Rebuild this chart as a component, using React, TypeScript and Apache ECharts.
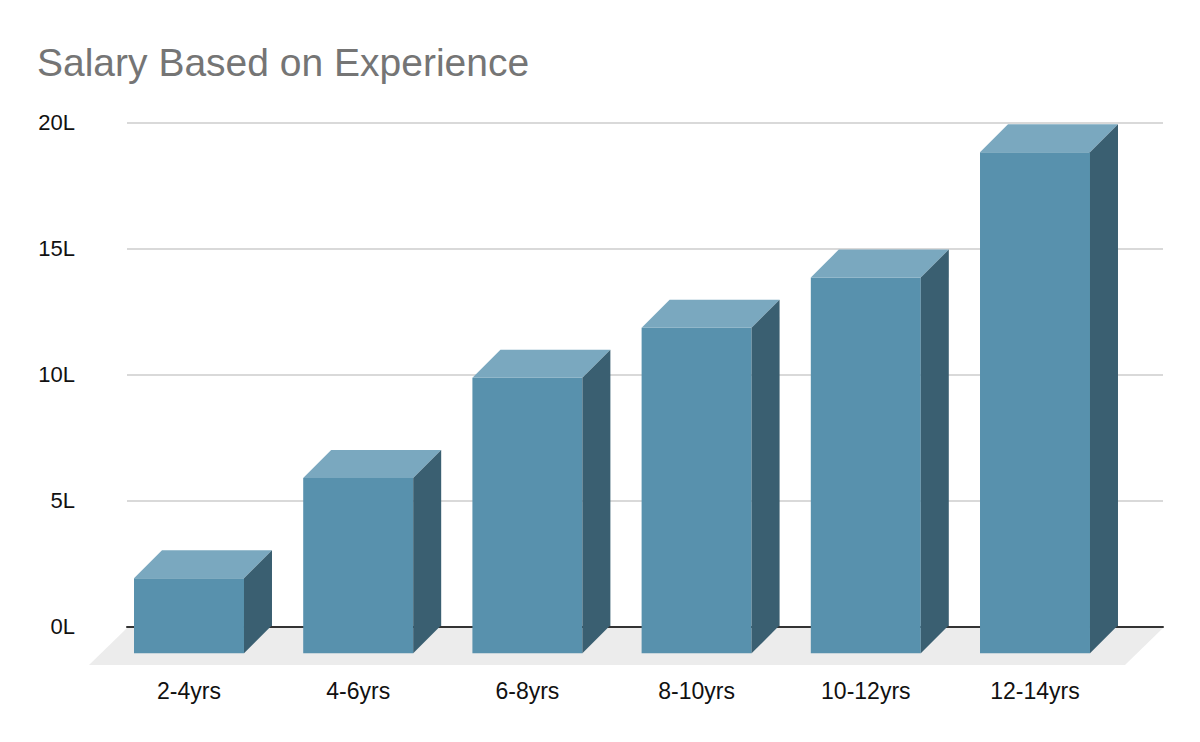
import React, { useEffect, useRef } from "react";
import * as echarts from "echarts";

const titleText = "Salary Based on Experience";
const categories = ["2-4yrs", "4-6yrs", "6-8yrs", "8-10yrs", "10-12yrs", "12-14yrs"];
const salaries = [3, 7, 11, 13, 15, 20];
const yTicks = { min: 0, max: 20, interval: 5, suffix: "L" };

const FONT = 'Arial, "Liberation Sans", sans-serif';
const FRONT = "#5891ad";
const TOP = "#7aa8bf";
const SIDE = "#3a5f71";
const DEPTH = 28;

export default function App() {
  const ref = useRef<HTMLDivElement>(null);
  useEffect(() => {
    if (!ref.current) return;
    const chart = echarts.init(ref.current, undefined, { renderer: "svg" });
    const option: any = {
      animation: false,
      backgroundColor: "#ffffff",
      title: {
        text: titleText,
        left: 37,
        top: 43,
        padding: 0,
        textStyle: { fontFamily: FONT, fontSize: 39, fontWeight: "normal", color: "#757575" },
      },
      grid: [
        // back plane: gridlines & value labels
        { left: 127, right: 37, top: 122.7, bottom: 742 - 626.7 },
        // front plane: bars & category labels
        { left: 104.4, right: 80.4, top: 152.3, bottom: 742 - 653.3 },
      ],
      xAxis: [
        {
          type: "category",
          gridIndex: 0,
          data: categories,
          axisLabel: { show: false },
          axisTick: { show: false },
          axisLine: { show: true, lineStyle: { color: "#333333", width: 2 } },
        },
        {
          type: "category",
          gridIndex: 1,
          data: categories,
          axisLabel: { show: true, margin: 26, fontFamily: FONT, fontSize: 23, color: "#111111" },
          axisTick: { show: false },
          axisLine: { show: false },
        },
      ],
      yAxis: [
        {
          type: "value",
          gridIndex: 0,
          min: yTicks.min,
          max: yTicks.max,
          interval: yTicks.interval,
          axisLabel: {
            margin: 52,
            fontFamily: FONT,
            fontSize: 22,
            color: "#111111",
            formatter: (v: number) => `${v}${yTicks.suffix}`,
          },
          axisLine: { show: false },
          axisTick: { show: false },
          splitLine: { show: true, lineStyle: { color: "#cccccc", width: 1.5 } },
        },
        {
          type: "value",
          gridIndex: 1,
          min: yTicks.min,
          max: yTicks.max,
          interval: yTicks.interval,
          show: false,
          splitLine: { show: false },
        },
      ],
      graphic: [
        {
          type: "polygon",
          z: 0,
          silent: true,
          shape: {
            points: [
              [89, 665],
              [1125, 665],
              [1163, 628],
              [127, 628],
            ],
          },
          style: { fill: "#ececec" },
        },
      ],
      series: [
        {
          type: "custom",
          xAxisIndex: 1,
          yAxisIndex: 1,
          z: 5,
          data: categories.map((c, i) => [i, salaries[i]]),
          encode: { x: 0, y: 1 },
          renderItem: (params: any, api: any) => {
            const i = api.value(0);
            const v = api.value(1);
            const top = api.coord([i, v]);
            const base = api.coord([i, 0]);
            const w = api.size([1, 0])[0] * 0.65;
            const x0 = top[0] - w / 2;
            const x1 = top[0] + w / 2;
            const y0 = top[1];
            const y1 = base[1];
            return {
              type: "group",
              children: [
                {
                  type: "polygon",
                  shape: { points: [[x0, y0], [x1, y0], [x1, y1], [x0, y1]] },
                  style: { fill: FRONT },
                },
                {
                  type: "polygon",
                  shape: { points: [[x0, y0], [x0 + DEPTH, y0 - DEPTH], [x1 + DEPTH, y0 - DEPTH], [x1, y0]] },
                  style: { fill: TOP },
                },
                {
                  type: "polygon",
                  shape: { points: [[x1, y0], [x1 + DEPTH, y0 - DEPTH], [x1 + DEPTH, y1 - DEPTH], [x1, y1]] },
                  style: { fill: SIDE },
                },
              ],
            };
          },
        },
      ],
    };
    chart.setOption(option);
    return () => chart.dispose();
  }, []);
  return (
    <div
      ref={ref}
      style={{ position: "absolute", left: 0, top: 0, width: 1200, height: 742 }}
    />
  );
}
